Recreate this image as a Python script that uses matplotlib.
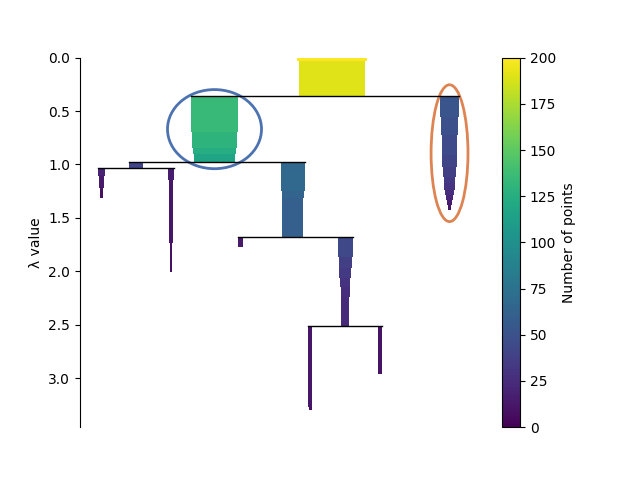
import numpy as np
import matplotlib
matplotlib.use("Agg")
import matplotlib.pyplot as plt
from matplotlib.patches import Ellipse

# condensed tree: lambda breaks and cluster sizes per cluster
root_lam = [0.0, 0.035, 0.361]
root_n = [200, 190]
green_lam = [0.361, 0.700, 0.846, 0.900, 0.978]
green_n = [135, 129, 124, 117]
orange_lam = [0.361, 0.553, 0.725, 0.912, 1.022, 1.116, 1.178, 1.241, 1.288, 1.334, 1.381, 1.428]
orange_n = [53, 49, 45, 41, 37, 34, 30, 26, 21, 15, 11]
small_lam = [0.978, 1.030]
small_n = [41]
big_lam = [0.978, 1.253, 1.316, 1.678]
big_n = [67, 64, 60]
leaf0_lam = [1.030, 1.112, 1.222, 1.316]
leaf0_n = [19, 14, 8]
leaf1_lam = [1.030, 1.144, 1.737, 2.003]
leaf1_n = [15, 11, 8]
leaf2_lam = [1.678, 1.769]
leaf2_n = [14]
mid_lam = [1.678, 1.862, 1.972, 2.066, 2.144, 2.237, 2.515]
mid_n = [43, 37, 33, 29, 26, 24]
leaf3_lam = [2.515, 3.269, 3.294]
leaf3_n = [11, 8]
leaf4_lam = [2.515, 2.963]
leaf4_n = [10]

clusters = {
    "root": (root_lam, root_n), "green": (green_lam, green_n), "orange": (orange_lam, orange_n),
    "small": (small_lam, small_n), "big": (big_lam, big_n), "leaf0": (leaf0_lam, leaf0_n),
    "leaf1": (leaf1_lam, leaf1_n), "leaf2": (leaf2_lam, leaf2_n), "mid": (mid_lam, mid_n),
    "leaf3": (leaf3_lam, leaf3_n), "leaf4": (leaf4_lam, leaf4_n),
}
children = {
    "root": ["green", "orange"],
    "green": ["small", "big"],
    "small": ["leaf0", "leaf1"],
    "big": ["leaf2", "mid"],
    "mid": ["leaf3", "leaf4"],
}
leaves = ["leaf0", "leaf1", "leaf2", "leaf3", "leaf4", "orange"]
selected = ["green", "orange"]

scaling = 200
xpos = {name: i * scaling for i, name in enumerate(leaves)}


def get_x(name):
    if name not in xpos:
        xpos[name] = np.mean([get_x(c) for c in children[name]])
    return xpos[name]


for name in clusters:
    get_x(name)

cmap = plt.get_cmap("viridis")
norm = matplotlib.colors.Normalize(0, 200)

fig = plt.figure(figsize=(6.4, 4.8), dpi=100)
ax = plt.gca()

centers, heights, bottoms, widths = [], [], [], []
for name, (lam, n) in clusters.items():
    for i in range(len(n)):
        centers.append(xpos[name])
        bottoms.append(lam[i])
        heights.append(lam[i + 1] - lam[i])
        widths.append(n[i])

ax.bar(centers, heights, bottom=bottoms, width=widths, color=cmap(norm(np.array(widths))),
       align="center", linewidth=0)

for parent, (left, right) in children.items():
    y = clusters[parent][0][-1]
    x0 = xpos[left] - clusters[left][1][0] / 2.0
    x1 = xpos[right] + clusters[right][1][0] / 2.0
    ax.plot([x0, x1], [y, y], color="black", linewidth=1)

palette = ["#4C72B0", "#DD8452"]
for i, name in enumerate(selected):
    lam, n = clusters[name]
    e = Ellipse((xpos[name], np.mean([lam[0], lam[-1]])), 2.0 * n[0], 1.2 * (lam[-1] - lam[0]),
                facecolor="none", edgecolor=palette[i], linewidth=2)
    ax.add_artist(e)

sm = plt.cm.ScalarMappable(cmap=cmap, norm=norm)
sm.set_array([])
cb = plt.colorbar(sm, ax=ax)
cb.ax.set_ylabel("Number of points")

ax.set_xticks([])
for side in ["top", "right", "bottom"]:
    ax.spines[side].set_visible(False)
ax.invert_yaxis()
ax.set_ylabel("λ value")

plt.savefig("out.png")
